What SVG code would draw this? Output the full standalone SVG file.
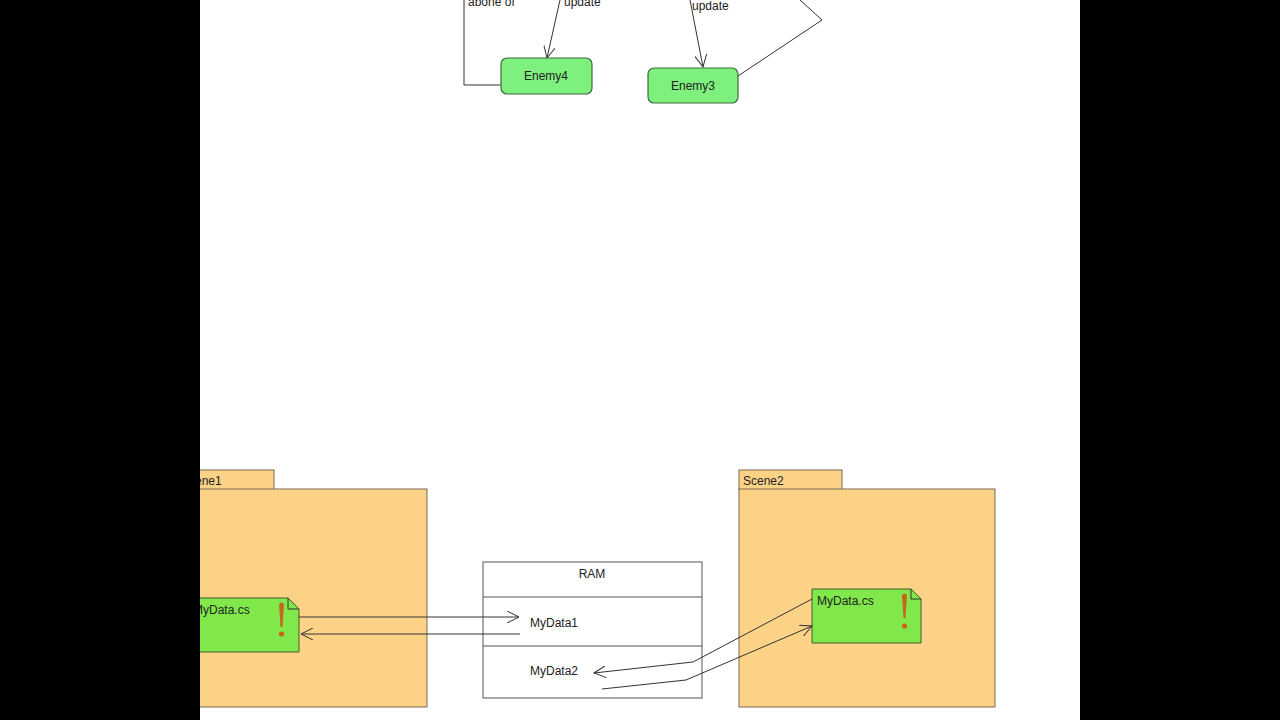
<svg xmlns="http://www.w3.org/2000/svg" width="1280" height="720" viewBox="0 0 1280 720">
<style>
text{font-family:"Liberation Sans",Arial,sans-serif;font-size:12px;fill:#222}
.st{fill:#7ef07e;stroke:#3a6b3a;stroke-width:1.2}
.pkg{fill:#fcd287;stroke:#7a6a50;stroke-width:1}
.doc{fill:#80e84a;stroke:#3f5f2a;stroke-width:1}
.ln{fill:none;stroke:#333;stroke-width:1}
.ex{fill:#c8641e}
</style>
<defs>
<marker id="a" markerWidth="14" markerHeight="12" refX="12" refY="6" orient="auto" markerUnits="userSpaceOnUse">
<path d="M0,0 L12,6 L0,12" fill="none" stroke="#333" stroke-width="1"/>
</marker>
</defs>
<rect width="1280" height="720" fill="#fff"/>
<g id="connectors">
<path class="ln" d="M501,85 H464 V0"/>
<path class="ln" d="M560,0 L547,58" marker-end="url(#a)"/>
<path class="ln" d="M690,0 L703,67" marker-end="url(#a)"/>
<path class="ln" d="M738,76 L822,20 L800,0"/>
</g>
<g id="enemy4"><rect class="st" x="501" y="58" width="91" height="36" rx="6"/><text x="546" y="80" text-anchor="middle">Enemy4</text></g>
<g id="enemy3"><rect class="st" x="648" y="68" width="90" height="35" rx="6"/><text x="693" y="90" text-anchor="middle">Enemy3</text></g>
<text x="468" y="6">abone of</text>
<text x="564" y="6">update</text>
<text x="692" y="10">update</text>
<g id="scene1">
<rect class="pkg" x="180" y="470" width="94" height="20"/>
<rect class="pkg" x="180" y="489" width="247" height="218"/>
<text x="181" y="485">Scene1</text>
</g>
<g id="mydata1">
<path class="doc" d="M180,598 H288 L299,609 V652 H180 Z"/>
<path class="ln" d="M288,598 V609 H299" stroke="#3f5f2a"/>
<text x="193" y="614">MyData.cs</text>
<path class="ex" d="M279,604 Q281.5,601 284,604 L282.5,627 H280.5 Z"/><circle class="ex" cx="281.5" cy="634" r="2.6"/>
</g>
<g id="scene2">
<rect class="pkg" x="739" y="470" width="103" height="20"/>
<rect class="pkg" x="739" y="489" width="256" height="218"/>
<text x="743" y="485">Scene2</text>
</g>
<g id="mydata2">
<path class="doc" d="M812,589 H911 L921,599 V643 H812 Z"/>
<path class="ln" d="M911,589 V599 H921" stroke="#3f5f2a"/>
<text x="817" y="605">MyData.cs</text>
<path class="ex" d="M902,595 Q904.5,592 907,595 L905.5,618 H903.5 Z"/><circle class="ex" cx="904.5" cy="626" r="2.6"/>
</g>
<g id="ram">
<rect x="483" y="562" width="219" height="136" fill="#fff" stroke="#555"/>
<line x1="483" y1="597" x2="702" y2="597" stroke="#555"/>
<line x1="483" y1="646" x2="702" y2="646" stroke="#555"/>
<text x="592" y="578" text-anchor="middle">RAM</text>
<text x="530" y="627">MyData1</text>
<text x="530" y="675">MyData2</text>
</g>
<g id="connectors2">
<path class="ln" d="M299,617 H519" marker-end="url(#a)"/>
<path class="ln" d="M520,634 H301" marker-end="url(#a)"/>
<path class="ln" d="M812,599 L693,662 L594,673" marker-end="url(#a)"/>
<path class="ln" d="M602,689 L686,680 L812,626" marker-end="url(#a)"/>
</g>
<rect x="0" y="0" width="200" height="720" fill="#000"/>
<rect x="1080" y="0" width="200" height="720" fill="#000"/>
</svg>
